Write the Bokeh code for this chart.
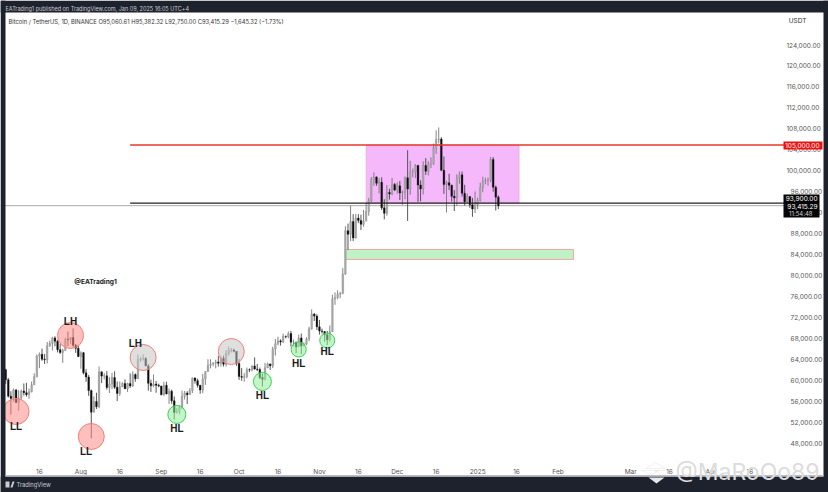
import pandas as pd
from bokeh.core.properties import value
from bokeh.embed import file_html
from bokeh.resources import INLINE
from bokeh.plotting import figure
from bokeh.models import (BoxAnnotation, ColumnDataSource, FixedTicker, Label, LinearAxis,
                          NumeralTickFormatter, PolyAnnotation, Range1d)

first_day = "2024-07-03"
closes = [60200,57050,56620,58230,55860,56710,58050,57720,57340,57890,59200,60790,64730,65040,64090,63990,66660,67140,68160,67530,65930,65370,65780,67900,67810,68250,66780,66190,64620,
65350,61500,60700,58110,53990,56030,55030,61700,60880,60940,58710,59350,60600,58740,57560,58870,59480,58440,59450,59010,61160,60380,64040,64160,64220,62830,59500,59030,59370,59120,58970,
57320,59130,57480,57970,56160,53950,54160,54870,57050,57650,57340,58130,60500,60000,59130,58210,60310,61760,62950,63200,63350,63580,63330,64300,63140,65180,65770,65870,65600,63300,
60800,60650,60750,62080,62060,62820,62220,62130,60580,60270,62450,63200,62850,66050,67040,67610,67400,68420,68360,69000,67360,67360,66430,68160,66640,67010,67960,69910,72720,72340,70290,
69500,69370,68780,67810,69360,75640,75900,76540,76680,80370,88650,87950,90400,87250,91060,90600,89850,90450,92300,94300,98350,98900,97700,97900,93000,91950,95950,95650,97450,96400,
97200,95850,96000,98750,96600,99900,99900,101100,97350,96600,101100,100000,101400,101400,104450,106050,106150,100200,97450,97800,97300,95200,94900,98700,99300,95800,94150,95150,93600,92800,93600,
94400,96900,98100,98200,98350,102250,96950,95050,93415.29]
highs = [62300,60500,58000,58500,58450,58200,58300,59470,59600,58500,59850,61420,65000,65390,66130,65100,67400,67640,68370,68480,67800,67100,66100,68200,69400,68300,70000,67000,66800,
65600,65500,62200,61100,58300,57000,57700,62700,61750,61450,61850,60700,61500,61800,59850,59850,59700,60260,59600,61400,61800,61400,64950,64500,65000,64500,63200,60200,61200,59950,59450,
59050,59800,59800,58500,58300,56990,54850,55300,58100,58050,58000,58600,60650,60650,60400,59200,61300,61800,64100,64100,63550,64000,64750,64700,64800,65850,66500,66250,66100,65600,
64130,62400,61450,62500,62350,62950,64450,63200,62500,61300,63400,63450,63250,66500,67950,68400,67900,69000,68650,69400,69500,67850,67450,68800,69000,67300,68300,70300,73620,72950,72700,
71600,69950,69500,69500,70550,76400,76850,77250,76950,81500,89500,90000,93450,91800,91850,91800,91700,92600,94000,94900,98900,99800,99000,98650,98850,94650,97350,96650,98700,97750,
97850,98150,96300,99000,104000,102000,100500,101350,101200,98250,101900,102500,101900,102650,105250,107800,108350,106500,102800,98150,99500,97450,96400,99400,99950,99950,97400,95700,95200,94900,96150,
94950,97800,98950,98750,98800,102700,102700,97250,95382.32]
lows = [59400,56800,53500,56000,55720,54260,56300,57150,56950,56550,57750,59200,60640,62400,63800,63200,63300,66480,65800,66570,65400,65100,63400,65700,66600,67050,66450,65300,64500,
62300,61200,59800,57100,49000,53950,54600,54750,59550,60250,58300,57650,58400,58430,56100,57100,58780,58420,57850,58600,58800,59800,60350,63600,63800,62800,58100,57850,58750,57700,58750,
57200,57120,57400,55550,55600,52550,53750,53600,54600,56400,55550,57350,57650,59450,58700,57500,57600,59200,61700,62350,62750,62350,62700,62700,62700,62700,64800,65400,65400,62850,
60150,59980,59800,60450,61650,61800,62100,61850,60300,58900,60050,62400,62050,62400,64800,66750,66700,67200,68100,68100,66500,66550,65250,66500,65050,66500,66800,67550,69750,71400,69700,
68800,69000,67450,66800,67450,69300,74500,75550,75750,76500,80200,85000,86650,86650,87100,90100,88750,89400,90900,91500,94100,97200,97200,95750,92600,90800,91500,94600,95400,96200,
95700,94500,93600,94650,90500,95500,98850,98700,94150,94250,95550,99300,99200,100600,101200,103300,105300,100000,95650,92100,96400,94200,92400,93400,97600,95150,93450,94100,93000,91300,92000,
92750,94200,96000,97500,97250,97900,96100,92500,92750.00]
first_open = 62100

tick_dates = ["2024-07-16","2024-08-01","2024-08-16","2024-09-01","2024-09-16","2024-10-01","2024-10-16","2024-11-01","2024-11-16","2024-12-01","2024-12-16","2025-01-01","2025-01-16","2025-02-01","2025-03-01","2025-03-16","2025-04-01","2025-04-16"]
tick_labels = ["16","Aug","16","Sep","16","Oct","16","Nov","16","Dec","16","2025","16","Feb","Mar","16","Apr","16"]
price_ticks = list(range(48000, 124001, 4000))

marker_dates = ["2024-07-07","2024-07-28","2024-08-05","2024-08-25","2024-09-07","2024-09-28","2024-10-10","2024-10-24","2024-11-04"]
marker_prices = [54120,68630,49350,64430,53550,65570,59850,65960,67680]
marker_sizes = [26,26,26,26,18,26,18,15,15]
marker_fills = ["#ff8a85","#ff8a85","#ff8a85","#c4c4c4","#8fee9b","#c4c4c4","#8fee9b","#8fee9b","#8fee9b"]
marker_edges = ["#f0807a","#f0807a","#f0807a","#f0807a","#3fcf55","#f0807a","#3fcf55","#3fcf55","#3fcf55"]

swing_dates = ["2024-07-07","2024-07-28","2024-08-03","2024-08-22","2024-09-07","2024-10-10","2024-10-24","2024-11-04"]
swing_prices = [51250,71300,46480,67100,50870,57170,63280,65570]
swing_labels = ["LL","LH","LL","LH","HL","HL","HL","HL"]

resistance, support, last_close = 105000, 93900, 93415.29
zone_a = ["2024-11-19","2025-01-17",105000,93900]
zone_b = ["2024-11-11","2025-02-07",85050,83150]
line_start = "2024-08-20"
line_end = "2025-04-30"
axis_day = "2025-04-27"
axis_price = 44400

PX_PER_DAY = 2.593
W, H = 828, 492
origin = pd.Timestamp(first_day)
def day(d):
    return (pd.Timestamp(d) - origin).days
n = len(closes)
opens = [first_open] + closes[:-1]
xs = list(range(n))

p = figure(width=W, height=H, output_backend="svg", toolbar_location=None, margin=(0,0,0,0),
           min_border=0,
           x_range=Range1d(-5.2/PX_PER_DAY, (W-5.2)/PX_PER_DAY),
           y_range=Range1d(124000-(H-45)/20.95*4000, 124000+45/20.95*4000),
           y_axis_location=None, x_axis_location=None, background_fill_color="white", border_fill_color="white", outline_line_color=None)
p.grid.visible = False

def style_axis(a):
    a.axis_line_color = None
    a.major_tick_line_color = None
    a.minor_tick_line_color = None
    a.major_label_text_font = "Inter"
    a.major_label_text_font_size = "6.5px"
    a.major_label_text_color = "#555555"

xax = LinearAxis(ticker=FixedTicker(ticks=[day(d) for d in tick_dates]), fixed_location=axis_price,
                 major_label_overrides={day(d): t for d, t in zip(tick_dates, tick_labels)})
style_axis(xax)
xax.major_label_standoff = 0

yax = LinearAxis(ticker=FixedTicker(ticks=price_ticks), formatter=NumeralTickFormatter(format="0,0.00"), fixed_location=day(axis_day),
                 major_label_overrides={v: ("" if v >= 100000 else "\u2007") + f"{v:,.2f}" for v in price_ticks})
style_axis(yax)
yax.major_label_standoff = 2

def subset(keep):
    idx = [x for x in xs if keep(closes[x], opens[x])]
    return ColumnDataSource(dict(x=idx, o=[opens[i] for i in idx], c=[closes[i] for i in idx],
                                 h=[highs[i] for i in idx], l=[lows[i] for i in idx]))
ups = subset(lambda c, o: c >= o)
dns = subset(lambda c, o: c < o)

p.quad(left=day(zone_a[0]), right=day(zone_a[1]), top=zone_a[2], bottom=zone_a[3], fill_color="#f4b8fb", line_color="#f0a0c8", line_width=0.6)
p.quad(left=day(zone_b[0]), right=day(zone_b[1]), top=zone_b[2], bottom=zone_b[3], fill_color="#bff2c4", line_color="#f2a8a0", line_width=1)

p.line([-2, day(line_end)], [last_close, last_close], line_color="#aaaaaa", line_width=1)
p.segment("x", "l", "x", "h", source=ups, line_color="#777777", line_width=0.9)
p.vbar("x", 0.68, "o", "c", source=ups, fill_color="#a8a8a8", line_color="#8c8c8c", line_width=0.3)
p.segment("x", "l", "x", "h", source=dns, line_color="#444444", line_width=0.9)
p.vbar("x", 0.68, "o", "c", source=dns, fill_color="#0c0c0c", line_color="#0c0c0c", line_width=0.3)

p.line([day(line_start), day(line_end)], [resistance]*2, line_color="#e8392b", line_width=1.3)
p.line([day(line_start), day(line_end)], [support]*2, line_color="#222222", line_width=1.3)

p.scatter([day(d) for d in marker_dates], marker_prices, size=marker_sizes, fill_color=marker_fills, fill_alpha=0.55,
          line_color=marker_edges, line_width=1)
p.text([day(d) for d in swing_dates], swing_prices, text=swing_labels, text_align="center", text_baseline="middle",
       text_font=value("Liberation Sans"), text_font_style="bold", text_font_size="10px", text_color="#1a1a1a")

p.add_layout(xax, "below")
p.add_layout(yax, "right")

DARK = "#1e222d"
def rect(l, r, t, b, c, level="overlay"):
    p.add_layout(BoxAnnotation(left=l, right=r, top=t, bottom=b, left_units="canvas", right_units="canvas",
                               top_units="canvas", bottom_units="canvas", fill_color=c, fill_alpha=1, line_color=None, level=level))
def label(x, y, t, size, color, align="left", style="normal", font="Inter"):
    p.add_layout(Label(x=x, y=y, x_units="canvas", y_units="canvas", text=t, text_font=font, text_font_size=size,
                       text_color=color, text_align=align, text_baseline="middle", text_font_style=style, level="overlay"))
def poly(xv, yv, fill=None, line="#d0d0d0"):
    p.add_layout(PolyAnnotation(xs=xv, ys=yv, xs_units="canvas", ys_units="canvas", fill_color=fill, fill_alpha=1 if fill else 0,
                                line_color=line, line_width=1, level="overlay"))

rect(0, W, 0, 12, DARK)
rect(0, 5, 0, H, DARK)
rect(823, W, 0, H, DARK)
rect(0, W, 476, H, DARK)
rect(5, 823, 474.5, 476, "#b9bcc4")
rect(783, 822, 141, 149, "#f01010")
rect(783, 819, 194, 217, "#050505")

label(5, 8, "EATrading1 published on TradingView.com, Jan 09, 2025 16:05 UTC+4", "5.5px", "#c8ccd4")
label(8, 20.5, "Bitcoin / TetherUS, 1D, BINANCE  O95,060.61  H95,382.32  L92,750.00  C93,415.29  \u22121,645.32 (\u22121.73%)", "5.8px", "#333333")
label(797, 20, "USDT", "6.5px", "#333333", align="center")
label(95, 281, "@EATrading1", "6.6px", "#1a1a1a", align="center", style="bold")
label(819, 145, "105,000.00", "6.5px", "#ffffff", align="right")
label(817, 198, "93,900.00", "6.5px", "#ffffff", align="right")
label(817, 206, "93,415.29", "6.5px", "#ffffff", align="right")
label(812, 212.5, "11:54:48", "6px", "#cccccc", align="right")

rect(5, 9, 481, 487, "#c8ccd4")
poly([10, 12, 14, 12], [487, 481, 481, 487], fill="#c8ccd4", line=None)
label(16, 484, "TradingView", "5.8px", "#c8ccd4")

poly([645, 655, 665], [468, 462, 468])
poly([642, 650, 658], [470, 475, 470])
poly([654, 662, 670], [470, 475, 470])
poly([648, 664, 656], [477, 477, 483], fill="#e8e8e8", line=None)
label(675, 471, "@MaRoOo89", "23px", "#dcdcdc")

open("out.html", "w").write(file_html(p, INLINE))
